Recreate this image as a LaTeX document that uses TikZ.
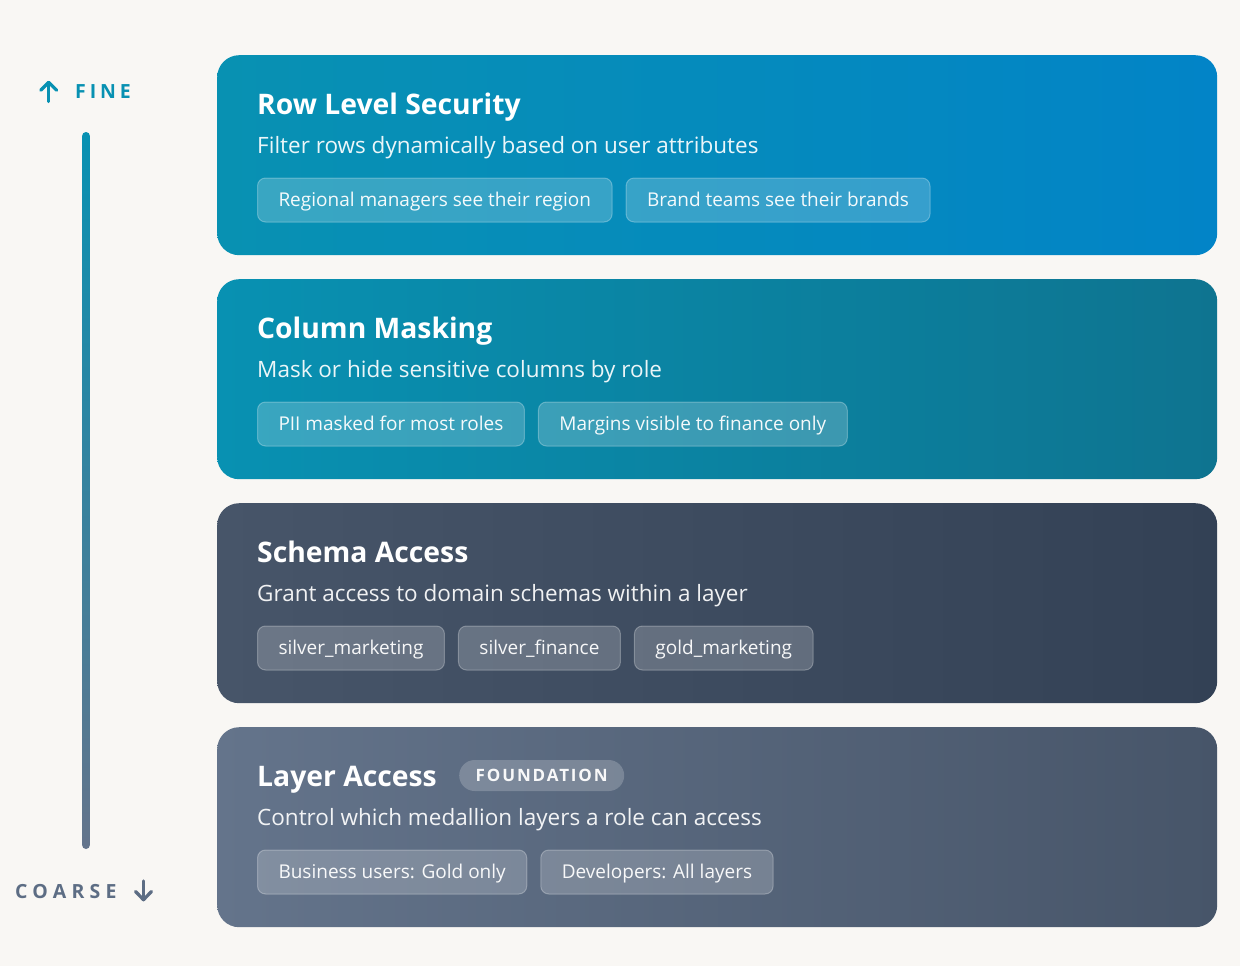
\documentclass[tikz,border=0pt]{standalone}
\usepackage{fontspec}
\setmainfont{Open Sans}
\newfontfamily\finefont[LetterSpace=20]{Open Sans}
\newfontfamily\coarsefont[LetterSpace=27]{Open Sans}
\newfontfamily\badgefont[LetterSpace=11]{Open Sans}
\usetikzlibrary{positioning,calc}
\definecolor{bg}{HTML}{F9F7F4}
\definecolor{cyanA}{HTML}{0891B2}
\definecolor{skyB}{HTML}{0284C7}
\definecolor{cyanB}{HTML}{0E7490}
\definecolor{slateA}{HTML}{475569}
\definecolor{slateB}{HTML}{334155}
\definecolor{slateC}{HTML}{64748B}
\definecolor{coarseC}{HTML}{5D6D84}
\tikzset{
  card/.style={rounded corners=22pt, minimum width=1000pt, minimum height=200pt,
    anchor=north west, inner sep=0pt},
  cardtitle/.style={anchor=base west, inner sep=0pt, text=white,
    font=\fontsize{28.3}{32}\selectfont\bfseries},
  cardsub/.style={anchor=base west, inner sep=0pt, text=white, text opacity=0.92,
    font=\fontsize{22.5}{26}\selectfont},
  chip/.style={draw=white, draw opacity=0.28, fill=white, fill opacity=0.2,
    text=white, text opacity=0.95, rounded corners=8pt, line width=1pt,
    minimum height=44pt, inner xsep=21pt, inner ysep=0pt,
    text height=13.5pt, text depth=0pt, anchor=west,
    font=\fontsize{19}{22}\selectfont},
  badge/.style={fill=white, fill opacity=0.2, text=white, text opacity=0.95,
    rounded corners=15.5pt, minimum height=31pt, minimum width=165pt,
    inner xsep=0pt, inner ysep=0pt,
    text height=12.5pt, text depth=0pt, anchor=west,
    font=\fontsize{17}{19}\badgefont\bfseries},
  axislabel/.style={anchor=base west, inner sep=0pt},
  axisarrow/.style={line width=3.3pt, line cap=round, line join=round}
}
\begin{document}
\begin{tikzpicture}[x=1pt,y=-1pt]
\useasboundingbox[fill=bg] (0,0) rectangle (1240,966);

% axis
\node[axislabel, text=cyanA] (fine) at (75,99)
  {\fontsize{19.5}{22}\finefont\bfseries FINE};
\node[axislabel, text=coarseC] (coarse) at (15,898)
  {\fontsize{19.5}{22}\coarsefont\bfseries COARSE};
\draw[axisarrow, cyanA] (48.7,101.5) -- (48.7,82.5);
\draw[axisarrow, cyanA] (40.8,90.2) -- (48.7,82.3) -- (56.6,90.2);
\draw[axisarrow, coarseC] (143.5,881) -- (143.5,899.5);
\draw[axisarrow, coarseC] (135.6,891.6) -- (143.5,899.7) -- (151.4,891.6);
\coordinate (ltop) at (86,132);
\coordinate (lbot) at (86,849);
\shade[top color=cyanA, bottom color=slateC, rounded corners=3.9pt]
  ($(ltop)+(-3.9,0)$) rectangle ($(lbot)+(3.9,0)$);

% card 1
\node[card, left color=cyanA, right color=skyB] (card1) at (217,55) {};
\node[cardtitle] (t1) at ($(card1.north west)+(40,59)$) {Row Level Security};
\node[cardsub] (s1) at ($(card1.north west)+(40,98)$) {Filter rows dynamically based on user attributes};
\node[chip] (c11) at ($(card1.north west)+(40,145)$) {Regional managers see their region};
\node[chip, right=13pt of c11] (c12) {Brand teams see their brands};

% card 2
\node[card, left color=cyanA, right color=cyanB] (card2) at (217,279) {};
\node[cardtitle] (t2) at ($(card2.north west)+(40,59)$) {Column Masking};
\node[cardsub] (s2) at ($(card2.north west)+(40,98)$) {Mask or hide sensitive columns by role};
\node[chip] (c21) at ($(card2.north west)+(40,145)$) {PII masked for most roles};
\node[chip, right=13pt of c21] (c22) {Margins visible to finance only};

% card 3
\node[card, left color=slateA, right color=slateB] (card3) at (217,503) {};
\node[cardtitle] (t3) at ($(card3.north west)+(40,59)$) {Schema Access};
\node[cardsub] (s3) at ($(card3.north west)+(40,98)$) {Grant access to domain schemas within a layer};
\node[chip] (c31) at ($(card3.north west)+(40,145)$) {silver\_marketing};
\node[chip, right=13pt of c31] (c32) {silver\_finance};
\node[chip, right=13pt of c32] (c33) {gold\_marketing};

% card 4
\node[card, left color=slateC, right color=slateA] (card4) at (217,727) {};
\node[cardtitle] (t4) at ($(card4.north west)+(40,59)$) {Layer Access};
\node[badge] (b4) at ($(card4.north west)+(242,48.5)$) {FOUNDATION};
\node[cardsub] (s4) at ($(card4.north west)+(40,98)$) {Control which medallion layers a role can access};
\node[chip] (c41) at ($(card4.north west)+(40,145)$) {Business users: Gold only};
\node[chip, right=13pt of c41] (c42) {Developers: All layers};
\end{tikzpicture}
\end{document}
